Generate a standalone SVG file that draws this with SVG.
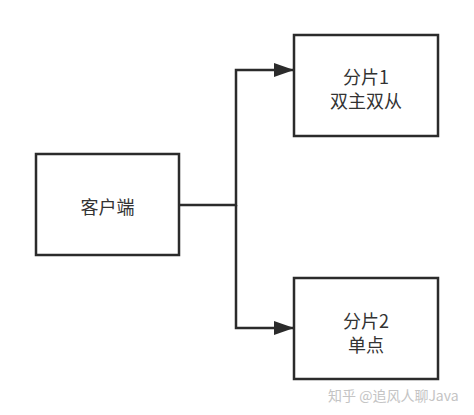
<svg xmlns="http://www.w3.org/2000/svg" width="474" height="415" viewBox="0 0 474 415">
<style>
.box{fill:#fff;stroke:#2b2b2b;stroke-width:2.5}
.t{font-family:"Noto Sans CJK SC","Liberation Sans",sans-serif;font-size:18px;fill:#333;text-anchor:middle}
.wm{font-family:"Noto Sans CJK SC","Liberation Sans",sans-serif;font-size:14px;fill:#c4c4c4;text-anchor:start}
.c{fill:none;stroke:#2b2b2b;stroke-width:2.5}
</style>
<defs>
<marker id="arr" viewBox="0 0 20 14" refX="20" refY="7" markerWidth="20" markerHeight="14" markerUnits="userSpaceOnUse" orient="auto">
<path d="M0,0 L20,7 L0,14 Z" fill="#2b2b2b"/>
</marker>
</defs>
<rect width="474" height="415" fill="#fff"/>
<g id="connectors">
<path class="c" d="M179,205 H236 V70 H294" marker-end="url(#arr)"/>
<path class="c" d="M236,205 V328 H294" marker-end="url(#arr)"/>
</g>
<g id="client">
<rect class="box" x="36" y="154" width="143" height="101"/>
<text class="t" x="107.5" y="214">客户端</text>
</g>
<g id="shard1">
<rect class="box" x="294" y="35" width="144" height="101"/>
<text class="t" x="366" y="84">分片1</text>
<text class="t" x="366" y="108">双主双从</text>
</g>
<g id="shard2">
<rect class="box" x="294" y="278" width="144" height="101"/>
<text class="t" x="366" y="328">分片2</text>
<text class="t" x="366" y="352">单点</text>
</g>
<text class="wm" x="328" y="401">知乎 @追风人聊Java</text>
</svg>
